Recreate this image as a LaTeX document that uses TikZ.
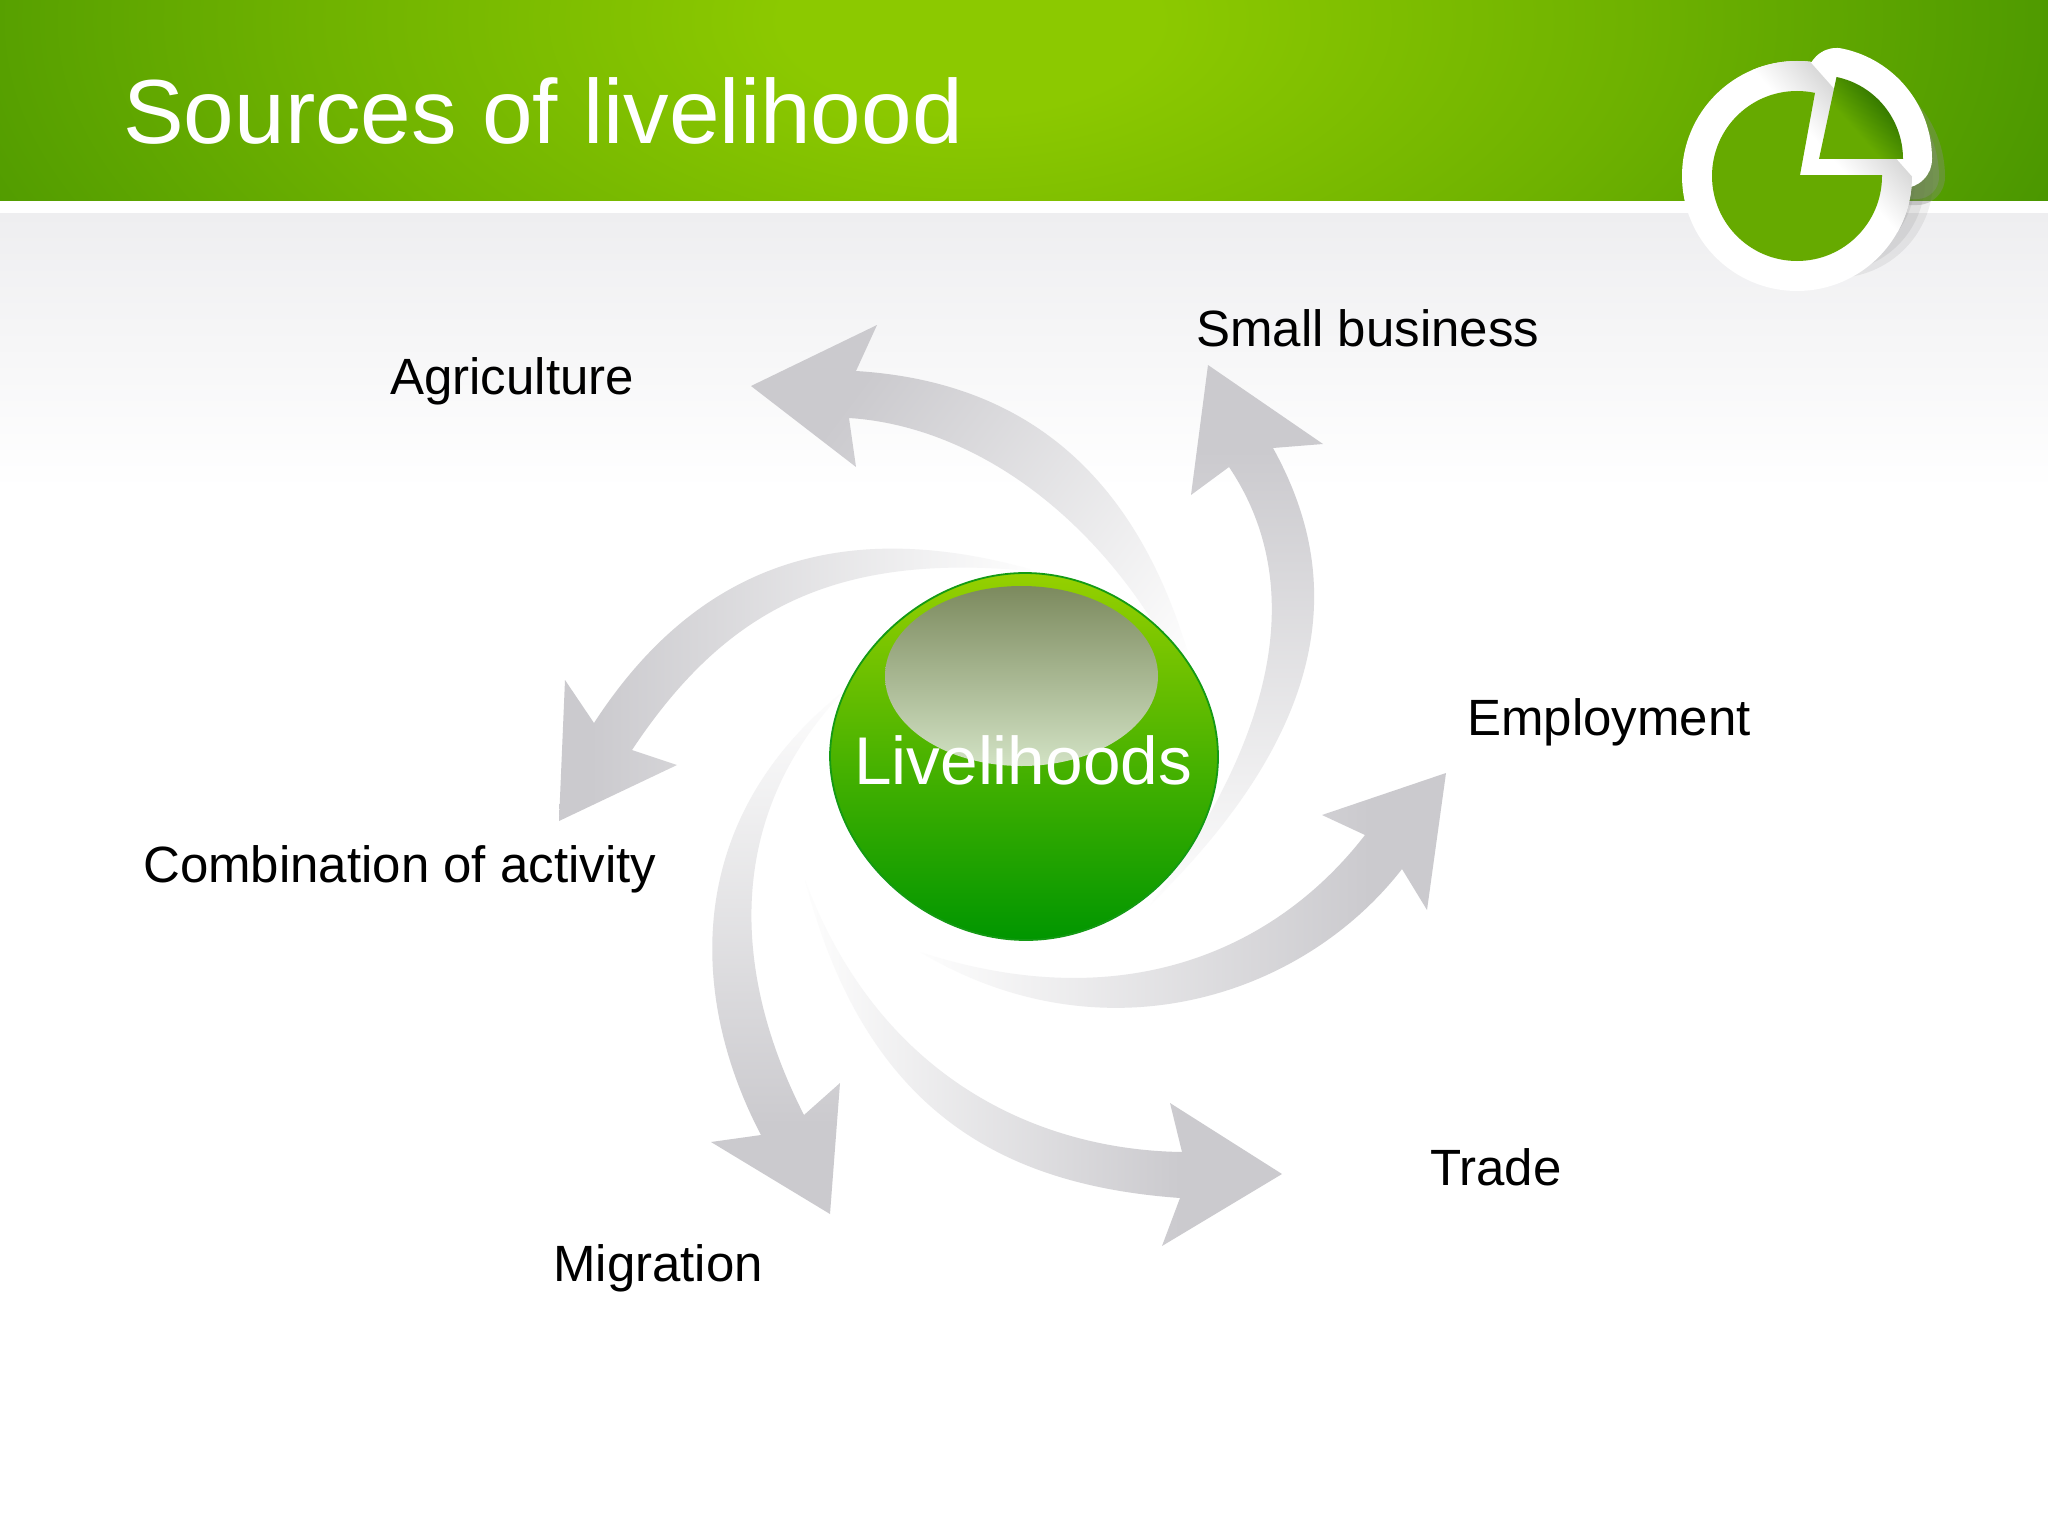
\documentclass[tikz,border=0pt]{standalone}
\usepackage{fontspec}
\setmainfont{Liberation Sans}
\definecolor{swirlgray}{HTML}{CBCACE}
\definecolor{swirlpale}{HTML}{FDFDFD}
\definecolor{hdrcenter}{HTML}{8CC900}
\definecolor{hdrmid}{HTML}{6FB200}
\definecolor{hdredge}{HTML}{489500}
\definecolor{piegreen}{HTML}{66AA00}
\definecolor{bggray}{HTML}{EEEEF0}
\definecolor{wedgedark}{HTML}{2F7300}
\definecolor{wedgelite}{HTML}{66AA00}
\definecolor{wedgemid}{HTML}{549C00}
\definecolor{peelshadow}{HTML}{8C8C8C}
\pgfdeclarehorizontalshading{swirlfade}{100bp}{color(0bp)=(white);color(25bp)=(swirlpale);color(50bp)=(swirlgray);color(100bp)=(swirlgray)}
\pgfdeclareradialshading{hdrglow}{\pgfpoint{0bp}{0bp}}{color(0bp)=(hdrcenter);color(4bp)=(hdrcenter);color(14bp)=(hdrmid);color(25bp)=(hdredge);color(50bp)=(hdredge)}
\pgfdeclarehorizontalshading{wedgecrease}{100bp}{color(0bp)=(wedgelite);color(25bp)=(wedgelite);color(47bp)=(wedgelite);color(58bp)=(wedgedark);color(68bp)=(wedgemid);color(100bp)=(wedgemid)}
\newcommand{\swirlarrow}[4]{%
  \begin{scope}
    \clip #1;
    \shade[shading=swirlfade,transform canvas={shift={(#2)},rotate=#3}] (0,-1000) rectangle ({2*#4},1000);
  \end{scope}}
\definecolor{hubline}{HTML}{149A14}
\definecolor{hubtop}{HTML}{96D000}
\definecolor{hubmid}{HTML}{50B000}
\definecolor{hubbot}{HTML}{009600}
\definecolor{glosstop}{HTML}{7C8A5E}
\definecolor{glossbot}{HTML}{D2E2C4}
\tikzset{
  label text/.style={font=\fontsize{51}{60}\selectfont,text=black,anchor=base west,inner sep=0pt},
  title text/.style={font=\fontsize{91}{100}\selectfont,text=white,anchor=base west,inner sep=0pt},
  hub text/.style={font=\fontsize{67.5}{76}\selectfont,text=white,anchor=base west,inner sep=0pt},
  hub/.style={draw=hubline,line width=1.8pt,top color=hubtop,middle color=hubmid,bottom color=hubbot},
  gloss/.style={top color=glosstop,bottom color=glossbot},
  peel shade/.style={draw=peelshadow,line join=round}
}
\begin{document}
\begin{tikzpicture}[x=1pt,y=-1pt]
\useasboundingbox (0,0) rectangle (2048,1536);
% page background
\fill[white] (0,0) rectangle (2048,1536);
\shade[top color=bggray,bottom color=white] (0,213) rectangle (2048,490);
% header band
\begin{scope}
  \clip (0,0) rectangle (2048,200);
  \shade[shading=hdrglow] (-200,-560) rectangle (2140,600);
\end{scope}
% logo shadows
\fill[black,opacity=.06] (1835,180) circle (98);
\fill[black,opacity=.06] (1833,180) circle (92);
\fill[black,opacity=.06] (1830,180) circle (85);
\path[peel shade,opacity=.35,line width=56pt] (1833,177) -- (1850,95) .. controls (1889,103) and (1917,137) .. (1917,177) -- cycle;
\path[peel shade,opacity=.35,line width=44pt] (1833,177) -- (1850,95) .. controls (1889,103) and (1917,137) .. (1917,177) -- cycle;
% logo body
\fill[white] (1797,176) circle (115);
\draw[white,line width=58pt,line join=round] (1819,159) -- (1836.5,77) .. controls (1875.3,85.1) and (1903,119.4) .. (1903,159) -- cycle;
\begin{scope}
  \clip (1797,176) circle (115);
  \shade[left color=white,right color=black!15,transform canvas={shift={(1860,118)},rotate=41.6}] (-48,-200) rectangle (0,200);
\end{scope}
\begin{scope}
  \clip (1800,175) -- (1821,60) -- (1650,60) -- (1650,300) -- (1950,300) -- (1950,175) -- cycle;
  \fill[piegreen] (1797,176) circle (85);
\end{scope}
\begin{scope}
  \clip (1819,159) -- (1836.5,77) .. controls (1875.3,85.1) and (1903,119.4) .. (1903,159) -- cycle;
  \shade[shading=wedgecrease,transform canvas={shift={(1860,118)},rotate=41.6}] (-100,-200) rectangle (100,200);
\end{scope}
% swirl arrows
\swirlarrow{(751,386) -- (877,325) -- (856,371) .. controls (1000,380) and (1130,450) .. (1190,660) -- (1170,650) .. controls (1085,500) and (960,425) .. (849,418) -- (856,467) -- cycle}{1187,650}{143}{420}
\swirlarrow{(559,821) -- (565,680) -- (594,723) .. controls (690,575) and (830,510) .. (1040,572) .. controls (835,550) and (725,610) .. (632,750) -- (677,765) -- cycle}{1030,572}{180}{440}
\swirlarrow{(1208,365) -- (1323,444) -- (1273,448) .. controls (1335,560) and (1350,710) .. (1150,905) .. controls (1310,690) and (1285,550) .. (1229,467) -- (1191,495) -- cycle}{1150,905}{90}{455}
\swirlarrow{(1446,773) -- (1322,815) -- (1365,835) .. controls (1280,945) and (1130,1020) .. (920,952) .. controls (1100,1060) and (1300,1000) .. (1402,869) -- (1427,910) -- cycle}{920,952}{0}{450}
\swirlarrow{(1282,1174) -- (1170,1103) -- (1182,1152) .. controls (1040,1150) and (880,1080) .. (805,880) .. controls (865,1110) and (1000,1185) .. (1180,1198) -- (1162,1246) -- cycle}{805,880}{0}{375}
\swirlarrow{(830,1214) -- (840,1083) -- (804,1115) .. controls (735,980) and (720,820) .. (845,690) .. controls (680,820) and (690,1000) .. (761,1135) -- (711,1142) -- cycle}{845,690}{-90}{435}
% central hub
\path[hub] (830,755) .. controls (832,660) and (925,573) .. (1025,573) .. controls (1125,573) and (1218,660) .. (1218,757) .. controls (1218,850) and (1130,940) .. (1026,940) .. controls (922,940) and (830,850) .. (830,755) -- cycle;
\path[gloss] (1021.5,676) ellipse (136.5 and 90);
% labels
\node[title text] (title) at (123,144) {Sources of livelihood};
\node[hub text] (hubl) at (854,784) {Livelihoods};
\node[label text] (agri) at (390,394) {Agriculture};
\node[label text] (small) at (1196,346) {Small business};
\node[label text] (empl) at (1467,735) {Employment};
\node[label text] (comb) at (143,882) {Combination of activity};
\node[label text] (migr) at (553,1281) {Migration};
\node[label text] (trade) at (1430,1185) {Trade};
\end{tikzpicture}
\end{document}
